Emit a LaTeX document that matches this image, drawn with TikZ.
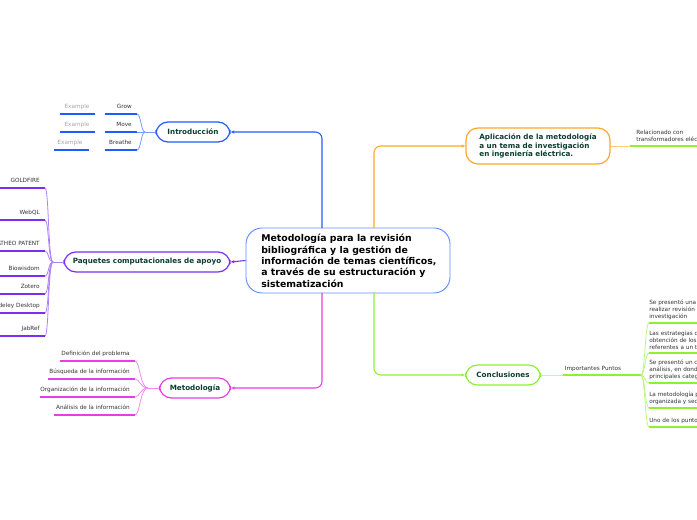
\documentclass[tikz,border=0pt]{standalone}
\usepackage{fontspec}
\setmainfont{DejaVu Sans}
\usetikzlibrary{arrows.meta}
\definecolor{cb}{HTML}{1E5CFF}
\definecolor{cp}{HTML}{7A2FF0}
\definecolor{cm}{HTML}{E83CE8}
\definecolor{co}{HTML}{FFA726}
\definecolor{cl}{HTML}{8EF030}
\definecolor{tg}{HTML}{0B3D2E}
\definecolor{tx}{HTML}{333333}
\begin{document}
\begin{tikzpicture}[x=0.75pt,y=-0.75pt,
 topic/.style={draw=#1,line width=0.9pt,rounded corners=9pt,fill=white,text=tg,font=\fontsize{5.4}{6.6}\selectfont\bfseries,inner sep=0pt},
 conn/.style={draw=#1,line width=0.8pt,rounded corners=5pt,-{Stealth[length=3pt]}},
 lbl/.style={font=\fontsize{4.3}{5.3}\selectfont,text=tx,inner sep=0pt},
 ul/.style={draw=#1,line width=0.9pt},
 br/.style={draw=#1!60,line width=0.6pt}]
\useasboundingbox (0,0) rectangle (697,520);
\clip (0,0) rectangle (697,520);
% central
\node[draw=cb!70,line width=0.7pt,rounded corners=12pt,fill=white,minimum width=204*0.75pt,minimum height=65*0.75pt,inner sep=0pt] (c) at (348,260.5) {};
\node[font=\fontsize{7}{8.5}\selectfont\bfseries,align=left,anchor=north west,inner sep=0pt] (ct) at (261,234)
 {Metodología para la revisión\\bibliográfica y la gestión de\\información de temas científicos,\\a través de su estructuración y\\sistematización};
% topics
\node[topic=cb,minimum width=74*0.75pt,minimum height=15pt] (intro) at (193,132) {Introducción};
\node[topic=cp,minimum width=166*0.75pt,minimum height=15pt] (paq) at (147,262) {Paquetes computacionales de apoyo};
\node[topic=cm,minimum width=71*0.75pt,minimum height=15pt] (met) at (195,388) {Metodología};
\node[topic=co,minimum width=144*0.75pt,minimum height=27pt,align=left] (apl) at (538,146) {Aplicación de la metodología\\a un tema de investigación\\en ingeniería eléctrica.};
\node[topic=cl,minimum width=75*0.75pt,minimum height=15pt] (con) at (503,375) {Conclusiones};
% connectors
\coordinate (c1) at (322,228); \coordinate (c2) at (322,293);
\coordinate (c3) at (374,228); \coordinate (c4) at (374,293);
\draw[conn=cb] (c1) |- (intro.east);
\draw[conn=cp] (c.west) -- (paq.east);
\draw[conn=cm] (c2) |- (met.east);
\draw[conn=co] (c3) |- (apl.west);
\draw[conn=cl] (c4) |- (con.west);
% intro children
\coordinate (ib) at (145,132);
\draw[br=cb] (intro.west) -- (ib);
\foreach \y/\t/\l/\e in {108/Grow/60/77,126/Move/60/77,144/Breathe/54/70}{
  \coordinate (e\y) at (137,\y+6);
  \draw[br=cb] (ib) .. controls (141,132) and (141,\y+6) .. (e\y);
  \draw[ul=cb] (e\y) -- (105,\y+6);
  \draw[ul=cb] (\l,\y+6) -- (\l+35,\y+6);
  \node[lbl,anchor=base east] (n\y) at (132,\y+1) {\t};
  \node[lbl,anchor=base,text=gray!70] (x\y) at (\e,\y+1) {Example};
}
% paquetes children
\coordinate (pb) at (53,262);
\draw[br=cp] (paq.west) -- (pb);
\foreach \y/\t in {188/GOLDFIRE,220/WebQL,251/MATHEO PATENT,276/Biowisdom,294/Zotero,313/Mendeley Desktop,336/JabRef}{
  \coordinate (p\y) at (45,\y);
  \draw[br=cp] (pb) .. controls (48,262) and (49,\y) .. (p\y);
  \draw[ul=cp] (p\y) -- (0,\y);
  \node[lbl,anchor=base east] (q\y) at (40,\y-5) {\t};
}
% metodologia children
\coordinate (mb) at (148,388);
\draw[br=cm] (met.west) -- (mb);
\foreach \y/\t/\l in {361/Definición del problema/60,379/Búsqueda de la información/48,397/Organización de la información/40,415/Análisis de la información/54}{
  \coordinate (m\y) at (135,\y);
  \draw[br=cm] (mb) .. controls (140,388) and (140,\y) .. (m\y);
  \draw[ul=cm] (m\y) -- (\l,\y);
  \node[lbl,anchor=base east] (r\y) at (130,\y-5) {\t};
}
% aplicacion child
\coordinate (ae) at (697,146);
\draw[draw=co!60,line width=0.6pt] (apl.east) -- (630,146);
\draw[ul=cl] (630,146) -- (ae);
\node[lbl,anchor=north west,align=left] (ar) at (636,130) {Relacionado con\\transformadores eléctricos};
% conclusiones children
\coordinate (kb) at (641,375);
\draw[draw=cl!50,line width=0.6pt] (con.east) -- (563,375);
\draw[ul=cl] (563,375) -- (kb);
\node[lbl,anchor=base] (ip) at (593,371) {Importantes Puntos};
\foreach \y/\t in {323/{Se presentó una metodología para\\ realizar revisión bibliográfica de\\investigación},353/{Las estrategias de búsqueda y\\obtención de los documentos\\referentes a un tema},383/{Se presentó un caso de estudio y su\\análisis, en donde se muestran las\\principales categorías},408/{La metodología planteada es\\organizada y secuencial},427/{Uno de los puntos importantes}}{
  \coordinate (k\y) at (649,\y);
  \draw[br=cl] (kb) .. controls (645,375) and (645,\y) .. (k\y);
  \draw[ul=cl] (k\y) -- (697,\y);
  \node[lbl,anchor=south west,align=left] (s\y) at (649,\y-3) {\t};
}
\end{tikzpicture}
\end{document}
